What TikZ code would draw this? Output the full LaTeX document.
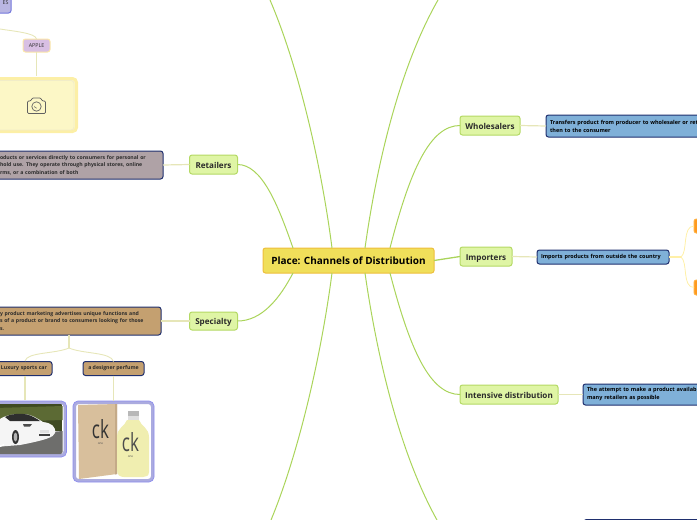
\documentclass[tikz,border=0pt]{standalone}
\usepackage{fontspec}
\setmainfont{Open Sans}
\definecolor{linkg}{HTML}{AAD45A}
\definecolor{linky}{HTML}{E6E6B8}
\definecolor{linko}{HTML}{FFF0A8}
\definecolor{ink}{HTML}{2B2B2B}
\definecolor{cfill}{HTML}{F0DF5A}
\definecolor{cdraw}{HTML}{EDBE3C}
\definecolor{mfill}{HTML}{DFF5A5}
\definecolor{mdraw}{HTML}{B4D964}
\definecolor{navy}{HTML}{1F2F6E}
\definecolor{bluef}{HTML}{7FB0D8}
\definecolor{greyf}{HTML}{AFA2A6}
\definecolor{tanf}{HTML}{C4A070}
\definecolor{applef}{HTML}{D8BFE3}
\definecolor{appled}{HTML}{FBE6A8}
\definecolor{oranf}{HTML}{FF9A1F}
\definecolor{orand}{HTML}{FFB040}
\definecolor{framec}{HTML}{ABABDF}
\definecolor{frameo}{HTML}{8C8CEE}
\definecolor{esf}{HTML}{B9B6E2}
\definecolor{esd}{HTML}{7478DC}
\definecolor{phd}{HTML}{FCEFA6}
\definecolor{phf}{HTML}{FCF7C6}
\definecolor{phi}{HTML}{F1ECC8}
\definecolor{tanbox}{HTML}{D8BF9C}
\definecolor{tandark}{HTML}{C4AA88}
\definecolor{bottle}{HTML}{F0EEB0}
\definecolor{foliage}{HTML}{3F4A22}
\definecolor{foliagel}{HTML}{5C6A34}
\definecolor{road}{HTML}{6E6E6C}
\tikzset{
  x=1pt,y=-1pt,
  base/.style={draw,rounded corners=2.5pt,inner sep=0pt,outer sep=0pt,line width=1pt,text=ink,font=\bfseries},
  central/.style={base,fill=cfill,draw=cdraw,text=black,font=\fontsize{10}{12}\selectfont\bfseries},
  mainb/.style={base,fill=mfill,draw=mdraw,text height=8pt,text depth=1pt,font=\fontsize{8.1}{10}\selectfont\bfseries},
  noteb/.style={base,draw=navy,align=left,font=\fontsize{5.15}{7.6}\selectfont\bfseries,text=ink,anchor=west},
  blueb/.style={noteb,fill=bluef,text=black,font=\fontsize{5.5}{8}\selectfont\bfseries},
  greyb/.style={noteb,fill=greyf},
  tanb/.style={noteb,fill=tanf},
  tanl/.style={base,fill=tanf,draw=navy,font=\fontsize{5.2}{6}\selectfont\bfseries,anchor=west},
  apple/.style={base,fill=applef,draw=appled,font=\fontsize{5.3}{6}\selectfont},
  oran/.style={base,fill=oranf,draw=orand},
  conn/.style={line width=1pt,draw=linkg},
  subc/.style={line width=1.2pt,draw=linky},
  frameb/.style={draw=framec,fill=white,line width=3pt,rounded corners=4pt,inner sep=0pt,outer sep=1.5pt},
  frameo/.style={draw=frameo,line width=.7pt,rounded corners=5pt},
}
\begin{document}
\begin{tikzpicture}
\useasboundingbox (0,0) rectangle (697,520);
\clip (0,0) rectangle (697,520);
% nodes
\node[central,minimum width=171pt,minimum height=25pt] (c) at (348.5,260.5) {Place: Channels of Distribution};
\node[mainb,minimum width=60pt,minimum height=19pt] (whole) at (490,125.5) {Wholesalers};
\node[mainb,minimum width=52pt,minimum height=19pt] (imp) at (486,256.5) {Importers};
\node[mainb,minimum width=98pt,minimum height=19pt] (inten) at (509,394.5) {Intensive distribution};
\node[mainb,minimum width=48pt,minimum height=19pt] (ret) at (213.5,164.5) {Retailers};
\node[mainb,minimum width=48pt,minimum height=18pt] (spec) at (213.5,321) {Specialty};
\node[blueb,text width=170pt,minimum height=22pt,inner xsep=4pt] (bw) at (546,126) {Transfers product from producer to wholesaler or ret\\then to the consumer};
\node[blueb,text width=124pt,minimum height=14pt,inner xsep=4pt] (bi) at (537,257) {Imports products from outside the country};
\node[blueb,text width=170pt,minimum height=21pt,inner xsep=4pt] (bd) at (583,394.5) {The attempt to make a product availab\\many retailers as possible};
\node[blueb,minimum width=170pt,minimum height=21pt] (bb) at (584,530) {};
\node[greyb,text width=157pt,minimum height=28pt,inner xsep=6pt] (gr) at (-6,165) {oducts or services directly to consumers for personal or\\hold use. They operate through physical stores, online\\rms, or a combination of both};
\node[tanb,text width=155pt,minimum height=28pt,inner xsep=6pt] (ts) at (-6,321) {y product marketing advertises unique functions and\\s of a product or brand to consumers looking for those\\s.};
\node[tanl,minimum height=14pt,text width=52pt,align=right,inner xsep=5pt] (lux) at (-10,368.5) {Luxury sports car};
\node[tanl,minimum height=14pt,minimum width=61pt] (des) at (83,368.5) {a designer perfume};
\node[apple,minimum width=27pt,minimum height=13pt] (ap) at (36.5,45.5) {APPLE};
\node[base,fill=esf,draw=esd,minimum height=20pt,font=\fontsize{5.3}{6}\selectfont,text width=16pt,align=right,inner xsep=2.5pt] (es) at (0.5,3) {\raisebox{-3.5pt}{ES}};
\node[oran,minimum width=10pt,minimum height=14pt] (o1) at (699,226) {};
\node[oran,minimum width=10pt,minimum height=15pt] (o2) at (699,287.5) {};
% picture frames as nodes
\node[frameb,draw=phd,fill=phf,minimum width=85pt,minimum height=53pt] (ph) at (34,105) {};
\node[frameb,minimum width=76pt,minimum height=53pt] (carf) at (27,429) {};
\node[frameb,minimum width=78pt,minimum height=78pt] (perf) at (113.5,441.5) {};
\draw[frameo] (-20,401) rectangle (66.5,457);
\draw[frameo] (73,401) rectangle (154,482);
% free ends
\coordinate (tl) at (270,0);
\coordinate (tr) at (438,0);
\coordinate (bl) at (271,520);
\coordinate (br) at (437,520);
\coordinate (apin) at (0,29);
\coordinate (spl) at (69,348);
\coordinate (ipl) at (681,257);
% main connectors
\draw[conn] ([xshift=-55.5pt]c.north) .. controls (278,205) and (262,164.5) .. (ret.east);
\draw[conn] ([xshift=-55.5pt]c.south) .. controls (280,298) and (262,321) .. (spec.east);
\draw[conn] ([xshift=-16.5pt]c.north) .. controls (322,170) and (300,70) .. (tl);
\draw[conn] ([xshift=16.5pt]c.north) .. controls (376,170) and (398,70) .. (tr);
\draw[conn] ([xshift=-16.5pt]c.south) .. controls (322,350) and (300,450) .. (bl);
\draw[conn] ([xshift=16.5pt]c.south) .. controls (376,350) and (398,450) .. (br);
\draw[conn] ([xshift=41.5pt]c.north) .. controls (410,170) and (430,125.5) .. (whole.west);
\draw[conn] ([xshift=41.5pt]c.south) .. controls (410,350) and (430,394.5) .. (inten.west);
\draw[conn,line width=1.3pt] (c.east) -- (imp.west);
% sub connectors
\draw[subc] (whole.east) -- (bw.west);
\draw[subc] (imp.east) -- (bi.west);
\draw[subc] (inten.east) -- (bd.west);
\draw[subc] (ret.west) -- (gr.east);
\draw[subc] (spec.west) -- (ts.east);
\draw[subc] (ts.south -| spl) -- (spl);
\draw[subc,line width=.9pt] (spl) .. controls (55,354) and (27,352) .. (25,361);
\draw[subc,line width=.9pt] (spl) .. controls (83,354) and (111,352) .. (des.north);
\draw[subc] (25,375.5) -- (25,400);
\draw[subc,line width=.9pt] (des.south) -- (perf.north);
\draw[subc,line width=.9pt] (apin) .. controls (12,31) and (36,33) .. (ap.north);
\draw[subc] (ap.south) -- (36.5,76);
\draw[line width=1.2pt,draw=linko] (bi.east) -- (ipl);
\draw[line width=.8pt,draw=linko] (ipl) .. controls (688,252) and (682,226) .. (o1.west);
\draw[line width=.8pt,draw=linko] (ipl) .. controls (688,262) and (682,287.5) .. (o2.west);
% camera placeholder
\draw[draw=phi,line width=.8pt,rounded corners=3pt] (-3,80.5) rectangle (74,130);
\begin{scope}[draw=black!62,line width=.7pt,rounded corners=1.2pt]
\draw (27.5,101) -- (31,101) -- (32,98) -- (41,98) -- (42,101) -- (45.5,101) -- (45.5,113.5) -- (27.5,113.5) -- cycle;
\draw[rounded corners=0pt] (36.5,106.5) circle (4.7pt);
\draw[rounded corners=0pt,line width=.5pt] (34.5,106) arc (180:270:2.2pt);
\end{scope}
% car
\begin{scope}
\clip[rounded corners=2pt] (-5,404) rectangle (62.5,454);
\fill[foliage] (-5,404) rectangle (63,431);
\fill[foliagel] (-5,408) -- (63,406) -- (63,420) -- (-5,422) -- cycle;
\fill[road] (-5,436) -- (63,431) -- (63,454) -- (-5,454) -- cycle;
\fill[black!4] (-5,423) .. controls (2,416) and (10,414) .. (22,414) .. controls (32,414) and (38,419) .. (43,422)
  .. controls (51,423) and (56,426) .. (55,433) .. controls (54,437) and (46,440) .. (20,445) -- (-5,447) -- cycle;
\fill[black!82] (5,417) .. controls (10,414) and (20,413) .. (27,414.5) .. controls (33,416) and (37,419) .. (40,421) -- (24,421) -- (10,421) -- cycle;
\fill[black!80] (15.5,437) ellipse (3.5pt and 7pt);
\fill[black!30] (15.5,437) ellipse (1.8pt and 4.5pt);
\fill[black!70] (23,424) -- (32,424) -- (30,426.5) -- (24,426.5) -- cycle;
\fill[black!75] (39,433.5) rectangle (50,435.5);
\fill[black!12] (40,430) rectangle (49,433);
\fill[white] (-5,447) -- (4,444) -- (4,445.5) -- (-5,449) -- cycle;
\end{scope}
% perfume
\fill[tanbox] (78,405) -- (117,404) -- (117,474) -- (79,479) -- cycle;
\fill[tandark] (115,404) -- (117,404) -- (117,474) -- (115,474.5) -- cycle;
\fill[bottle] (127,420) -- (139,420) .. controls (141,426) and (149,428) .. (149,437) -- (149,472) .. controls (149,476) and (146,477) .. (143,477) -- (124,477) .. controls (120,477) and (117,475) .. (117,470) -- (117,437) .. controls (117,428) and (125,426) .. (127,420) -- cycle;
\fill[black!28] (128,410.5) rectangle (138.5,416);
\fill[black!12] (127.5,416) rectangle (139,420);
\node[font=\fontsize{20}{20}\selectfont,text=black!80,inner sep=0pt] (ck1) at (100.5,429) {\scalebox{.85}[1.25]{ck}};
\node[font=\fontsize{3}{3}\selectfont,text=black!70,inner sep=0pt] (one1) at (100.5,444) {one};
\node[font=\fontsize{20}{20}\selectfont,text=black!70,inner sep=0pt] (ck2) at (130.5,442) {\scalebox{.85}[1.25]{ck}};
\node[font=\fontsize{3}{3}\selectfont,text=black!70,inner sep=0pt] (one2) at (130.5,457) {one};
\end{tikzpicture}
\end{document}
